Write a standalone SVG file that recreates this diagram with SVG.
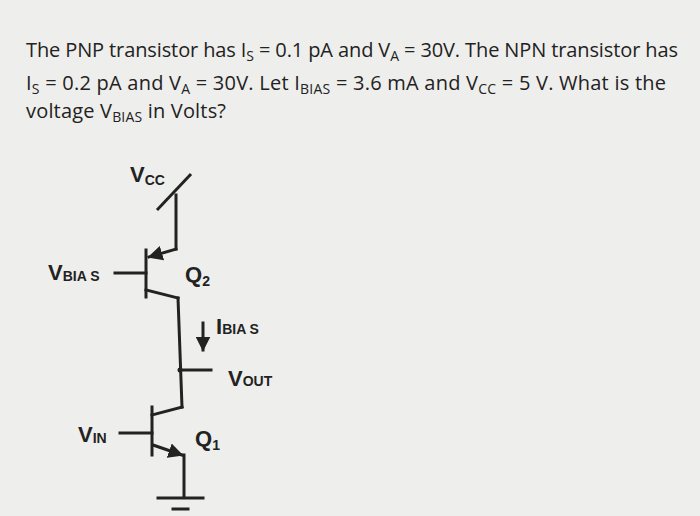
<svg xmlns="http://www.w3.org/2000/svg" width="700" height="516" viewBox="0 0 700 516">
<style>
.t{font-family:"Open Sans","Liberation Sans",sans-serif;font-size:20px;fill:#222}
.l{font-family:"Liberation Sans",Arial,sans-serif;font-weight:bold;font-size:22px;fill:#222}
.s{font-size:14px}
.w{stroke:#222;stroke-width:3;fill:none;stroke-linecap:square}
</style>
<defs><marker id="ah" viewBox="0 0 10 10" refX="9" refY="5" markerWidth="5" markerHeight="5" orient="auto" markerUnits="strokeWidth"><path d="M0,0L10,5L0,10z" fill="#222"/></marker></defs>
<rect width="700" height="516" fill="#eeeeec"/>
<g id="question">
<text class="t" x="26" y="57" textLength="652" lengthAdjust="spacing">The PNP transistor has I<tspan class="s" dy="4">S</tspan><tspan dy="-4"> = 0.1 pA and V</tspan><tspan class="s" dy="4">A</tspan><tspan dy="-4"> = 30V.  The NPN transistor has</tspan></text>
<text class="t" x="26" y="90" textLength="640" lengthAdjust="spacing">I<tspan class="s" dy="4">S</tspan><tspan dy="-4"> = 0.2 pA and V</tspan><tspan class="s" dy="4">A</tspan><tspan dy="-4"> = 30V.  Let I</tspan><tspan class="s" dy="4">BIAS</tspan><tspan dy="-4"> = 3.6 mA and V</tspan><tspan class="s" dy="4">CC</tspan><tspan dy="-4"> = 5 V.  What is the</tspan></text>
<text class="t" x="26" y="118" textLength="200" lengthAdjust="spacing">voltage V<tspan class="s" dy="4">BIAS</tspan><tspan dy="-4"> in Volts?</tspan></text>
</g>
<g id="vcc"><text class="l" x="130" y="182">V<tspan class="s" dy="3">CC</tspan></text><line class="w" x1="158" y1="209" x2="190" y2="175"/></g>
<g id="q2">
<line class="w" x1="146" y1="250" x2="146" y2="297"/>
<line class="w" x1="176" y1="195" x2="176" y2="249"/>
<line class="w" x1="176" y1="249" x2="149" y2="257" marker-end="url(#ah)"/>
<line class="w" x1="146" y1="290" x2="178" y2="298"/>
<text class="l" x="185" y="282">Q<tspan class="s" dy="4">2</tspan></text>
</g>
<g id="vbias"><text class="l" x="48" y="280">V<tspan class="s" dy="1">BIA S</tspan></text><line class="w" x1="115" y1="273" x2="146" y2="273"/></g>
<g id="q1">
<line class="w" x1="152" y1="407" x2="152" y2="455"/>
<line class="w" x1="182" y1="407" x2="152" y2="415"/>
<line class="w" x1="153" y1="445" x2="182" y2="455" marker-end="url(#ah)"/>
<line class="w" x1="184" y1="455" x2="184" y2="497"/>
<text class="l" x="195" y="446">Q<tspan class="s" dy="4">1</tspan></text>
</g>
<g id="vin"><text class="l" x="78" y="442">V<tspan class="s" dy="1">IN</tspan></text><line class="w" x1="120" y1="433" x2="152" y2="433"/></g>
<g id="gnd"><line class="w" x1="158" y1="498" x2="203" y2="498"/><line class="w" x1="173" y1="509" x2="188" y2="509"/></g>
<g id="connectors">
<line class="w" x1="178" y1="298" x2="182" y2="407"/>
<circle cx="180" cy="370" r="2.5" fill="#222"/>
<line class="w" x1="180" y1="370" x2="211" y2="370"/>
<line class="w" x1="203" y1="323" x2="203" y2="350" marker-end="url(#ah)"/>
</g>
<g id="ibias"><text class="l" x="216" y="334">I<tspan class="s" dy="0">BIA S</tspan></text></g>
<g id="vout"><text class="l" x="228" y="386">V<tspan class="s">OUT</tspan></text></g>
</svg>
